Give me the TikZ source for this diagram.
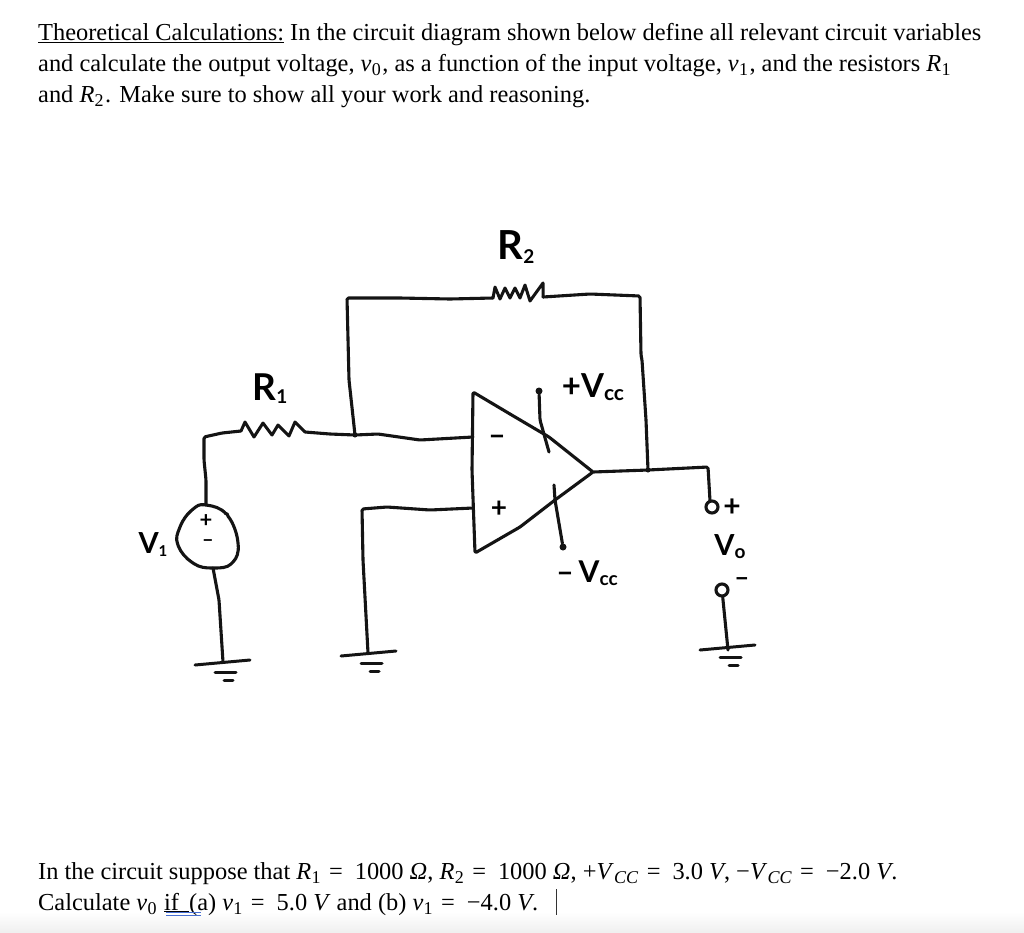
\documentclass[tikz,border=0pt]{standalone}
\usepackage{fontspec}
\setmainfont{Liberation Serif}
\newfontfamily\handfont{Lato}
\usetikzlibrary{shadings}
\newcommand{\mvar}[2]{\textit{#1}\kern.3pt\raisebox{-4pt}{\fontsize{18}{18}\selectfont #2}\kern1.5pt\relax}
\newcommand{\egal}{\kern7pt=\kern12pt\relax}
\definecolor{gramblue}{RGB}{70,110,210}

\begin{document}
\begin{tikzpicture}[x=1pt,y=-1pt]
\tikzstyle{ligne}=[anchor=base west, inner sep=0pt, font=\fontsize{24.4}{30}\selectfont]
\tikzstyle{fil}=[line width=3.1pt, black!92, line join=round, line cap=round, rounded corners=1.5pt]
\tikzstyle{zig}=[line width=3pt, black!92, line join=round, line cap=round]
\tikzstyle{borne}=[circle, draw=black!92, line width=3.1pt, fill=white, minimum size=12pt, inner sep=0pt]
\tikzstyle{point}=[circle, fill=black!92, minimum size=7pt, inner sep=0pt]
\tikzstyle{main}=[inner sep=0pt, font=\handfont]
\useasboundingbox (0,0) rectangle (1024,932);
\fill[white] (0,0) rectangle (1024,932);
\shade[top color=white, bottom color=black!6] (0,912) rectangle (1024,932);

\node[ligne] (l1) at (38,40) {\underline{Theoretical Calculations:} In the circuit diagram shown below define all relevant circuit variables};
\node[ligne] (l2) at (38,71) {and calculate the output voltage, \mvar{v}{0}, as a function of the input voltage, \mvar{v}{1}, and the resistors \mvar{R}{1}};
\node[ligne] (l3) at (38,102) {and \mvar{R}{2}. Make sure to show all your work and reasoning.};
\node[ligne] (l4) at (38,879) {In the circuit suppose that \mvar{R}{1}\egal 1000 \textit{Ω}, \mvar{R}{2}\egal 1000 \textit{Ω}, +\mvar{V}{\textit{CC}}\egal 3.0 \textit{V}, −\mvar{V}{\textit{CC}}\egal −2.0 \textit{V}.};
\node[ligne] (l5) at (38,910) {Calculate \mvar{v}{0} \underline{if\ \kern4pt}(a) \mvar{v}{1}\egal 5.0 \textit{V} and (b) \mvar{v}{1}\egal −4.0 \textit{V}.};
\coordinate (g1) at (166,912.5);
\coordinate (g2) at (201,912.5);
\coordinate (g3) at (166,915);
\coordinate (g4) at (201,915);
\draw[gramblue, line width=.8pt] (g1) -- (g2) (g3) -- (g4);
\coordinate (c1) at (556,889);
\coordinate (c2) at (556,915);
\draw[black!80, line width=1pt] (c1) -- (c2);

\coordinate (inm) at (473,437);
\coordinate (inp) at (473,508);
\coordinate (haut) at (473,392);
\coordinate (bas) at (475,553);
\coordinate (sortie) at (593,472);
\coordinate (j1) at (355,435);
\coordinate (j2) at (648,470);
\draw[fil] (haut) -- (472,470) -- (bas) -- (520,527) -- (555,500) -- (sortie) -- (549,437) -- (510,414) -- cycle;
\node[main, font=\handfont\bfseries\fontsize{30}{30}\selectfont] (moins) at (497,440) {–};
\node[main, font=\handfont\bfseries\fontsize{28}{28}\selectfont] (plus) at (499,509) {+};

\coordinate (sa) at (206,505);
\coordinate (sb) at (213,568);
\draw[fil] plot[smooth cycle, tension=.7] coordinates {(sa) (227,515) (238,543) (232,563) (sb) (193,563) (178,545) (180,527) (192,510)};
\node[main, font=\handfont\bfseries\fontsize{22}{22}\selectfont] (splus) at (206,521) {+};
\node[main, font=\handfont\bfseries\fontsize{20}{20}\selectfont] (smoins) at (208,543) {–};

\coordinate (r1a) at (241,431);
\coordinate (r1b) at (305,432);
\coordinate (r2a) at (493,298);
\coordinate (r2b) at (543,297);
\draw[zig] (r1a) -- (245,422) -- (254,437) -- (263,423) -- (272,435) -- (278,425) -- (289,436) -- (295,422) -- (r1b);
\draw[zig] (r2a) -- (495,287) -- (500,299) -- (505,288) -- (510,298) -- (515,288) -- (520,298) -- (525,285) -- (530,301) -- (543,283) -- (r2b);

\draw[fil] (sa) -- (206,480) -- (204,460) -- (204,437) -- (222,433) -- (r1a);
\draw[fil] (r1b) -- (330,434) -- (j1) -- (378,434) -- (420,440) -- (inm);
\draw[fil] (j1) -- (349,380) -- (347,298) -- (400,298) -- (450,299) -- (r2a);
\draw[fil] (r2b) -- (590,294) -- (640,296) -- (641,355) -- (642,360) -- (646,420) -- (j2);
\draw[fil] (sortie) -- (j2) -- (708,467) -- (710,501);
\draw[fil] (sb) -- (219,600) -- (223,662);
\draw[fil] (inp) -- (430,510) -- (387,507) -- (362,509) -- (363,560) -- (368,653);
\node[point, minimum size=5pt] (nj1) at (j1) {};
\node[point, minimum size=5pt] (nj2) at (j2) {};

\node[point] (pvcc) at (539,391) {};
\node[point] (mvcc) at (563,547) {};
\draw[fil] (pvcc) -- (540,420) -- (549,452);
\draw[fil] (554,485) -- (555,500) -- (mvcc);

\node[borne] (o1) at (712,507) {};
\node[borne] (o2) at (722,590) {};
\draw[fil] (o2) -- (728,650);

\foreach \gx/\gy/\gn in {223/663/t1,369/654/t2,728/648/t3}
{
\coordinate (\gn) at (\gx,\gy);
\draw[zig] (\gx-28,\gy+2) -- (\gx+27,\gy-3);
\draw[zig] (\gx-8,\gy+9) -- (\gx+13,\gy+9);
\draw[zig] (\gx+1,\gy+17) -- (\gx+10,\gy+17);
}

\node[main, font=\handfont\bfseries\fontsize{40}{40}\selectfont] (r2) at (516,247) {R\raisebox{-4pt}{\fontsize{19}{19}\selectfont\bfseries 2}};
\node[main, font=\handfont\bfseries\fontsize{37}{37}\selectfont] (r1) at (270,389) {R\raisebox{-3pt}{\fontsize{19}{19}\selectfont 1}};
\node[main, font=\handfont\bfseries\fontsize{29}{29}\selectfont] (v1) at (153,545) {V\raisebox{-3pt}{\fontsize{15}{15}\selectfont 1}};
\node[main, font=\handfont\bfseries\fontsize{33}{33}\selectfont] (vcp) at (593,387) {+V\raisebox{-3pt}{\fontsize{21}{21}\selectfont cc}};
\node[main, font=\handfont\bfseries\fontsize{30}{30}\selectfont] (vcm) at (587,573) {–\,V\raisebox{-3pt}{\fontsize{19}{19}\selectfont cc}};
\node[main, font=\handfont\bfseries\fontsize{29}{29}\selectfont] (vo) at (730,547) {V\raisebox{-3pt}{\fontsize{19}{19}\selectfont\bfseries o}};
\node[main, font=\handfont\bfseries\fontsize{30}{30}\selectfont] (op) at (732,508) {+};
\node[main, font=\handfont\bfseries\fontsize{26}{26}\selectfont] (om) at (742,582) {–};
\end{tikzpicture}
\end{document}
